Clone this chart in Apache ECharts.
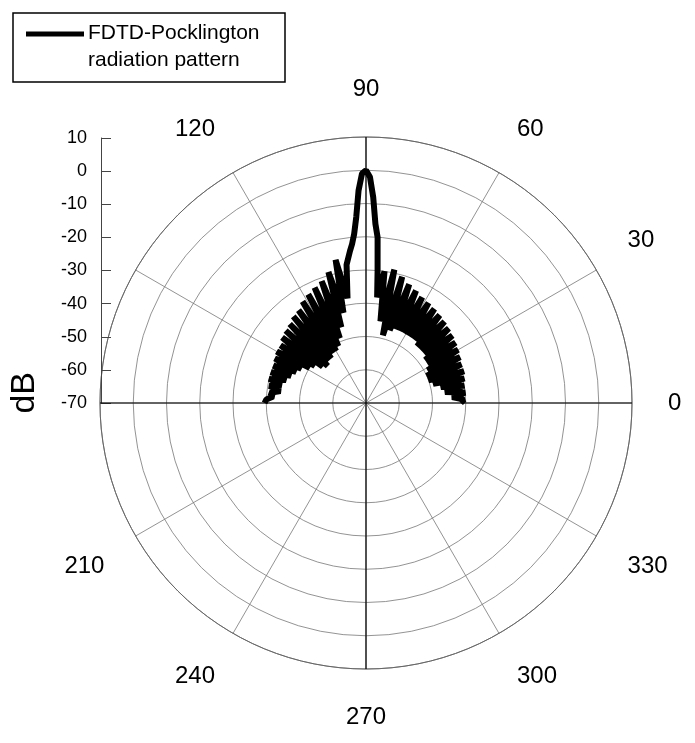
<!DOCTYPE html>
<html>
<head>
<meta charset="utf-8">
<script src="https://cdn.jsdelivr.net/npm/echarts@6/dist/echarts.min.js"></script>
<style>html,body{margin:0;padding:0;background:#fff}#chart{width:695px;height:743px}</style>
</head>
<body>
<div id="chart"></div>
<script>
// pattern sample angles (deg) and gain (dB)
const angles = [0,2,4,6,8,10,12,14,16,18,20,22,24,26,28,30,32,34,36,38,40,42,44,46,48,50,52,54,56,58,60,62,64,66,68,70,72,74,76,78,80,82,84,
  85,86,87,88,89,90,91,92,93,94,95,96,98,100,
  102,104,106,108,110,112,114,116,118,120,122,124,126,128,130,132,134,136,138,140,142,144,146,148,150,152,154,156,158,160,162,164,166,168,170,172,174,176,178,180];
const gainDb = [-41.5,-40.5,-44,-40,-46,-40,-47,-39.5,-49,-39,-50,-39,-50,-38.5,-49,-38,-48,-37.5,-48,-37,-47,-36.5,-47,-36,-47,-35.5,-46,-35,-46,-34.5,-46,-34,-46,-33,-46,-32,-47,-30.5,-49,-29,-45,-30,-38,
  -30,-20,-16,-8,-2,0,-1,-6,-14,-19,-22,-24,-28,-38,
  -26,-42,-29,-46,-31,-49,-32,-51,-33,-52,-34,-52,-35.5,-53,-36,-53,-37,-54,-37.5,-53,-38,-51,-39,-50,-39,-48,-39.5,-47,-40,-46,-40,-45,-40,-44,-40.5,-44,-41,-42,-40,-39.5];
const dbTicks = { min: -70, max: 10, step: 10 };
const angleTicks = { min: 0, max: 360, step: 30 };
const hiddenAngleLabels = [150, 180, 360];

const cx = 366, cy = 403, R = 266;
const chart = echarts.init(document.getElementById("chart"));
const font = "Arial, 'Liberation Sans', sans-serif";

chart.setOption({
  animation: false,
  polar: { center: [cx, cy], radius: R },
  angleAxis: {
    type: "value", min: angleTicks.min, max: angleTicks.max, interval: angleTicks.step,
    startAngle: 0, clockwise: false,
    axisLine: { lineStyle: { color: "#666", width: 1 } },
    axisTick: { show: false },
    axisLabel: { margin: 36, fontSize: 24, color: "#000", fontFamily: font,
      formatter: (v) => (hiddenAngleLabels.includes(v) ? "" : v) },
    splitLine: { lineStyle: { color: "#777", width: 0.8 } },
  },
  radiusAxis: {
    type: "value", min: dbTicks.min, max: dbTicks.max, interval: dbTicks.step,
    axisLine: { show: false }, axisTick: { show: false }, axisLabel: { show: false },
    splitLine: { lineStyle: { color: "#777", width: 0.8 } },
  },
  grid: { left: 101, top: 138, width: 1, height: 265 },
  xAxis: { type: "value", show: false },
  yAxis: {
    type: "value", min: dbTicks.min, max: dbTicks.max, interval: dbTicks.step,
    axisLine: { show: true, lineStyle: { color: "#444" } },
    axisTick: { show: true, inside: true, length: 10, lineStyle: { color: "#444" } },
    axisLabel: { fontSize: 18, color: "#000", margin: 14, fontFamily: font },
    splitLine: { show: false },
  },
  graphic: [
    { type: "line", shape: { x1: cx - R, y1: cy, x2: cx + R, y2: cy }, style: { stroke: "#000", lineWidth: 1.2 }, z: 5 },
    { type: "line", shape: { x1: cx, y1: cy - R, x2: cx, y2: cy + R }, style: { stroke: "#000", lineWidth: 1.2 }, z: 5 },
    { type: "rect", shape: { x: 13, y: 13, width: 272, height: 69 }, style: { fill: "#fff", stroke: "#000", lineWidth: 1.5 } },
    { type: "line", shape: { x1: 26, y1: 34, x2: 84, y2: 34 }, style: { stroke: "#000", lineWidth: 5 } },
    { type: "text", left: 88, top: 20, style: { text: "FDTD-Pocklington\nradiation pattern", font: "21px " + font, lineHeight: 27, fill: "#000" } },
    { type: "text", left: 8, top: 372, rotation: Math.PI / 2, style: { text: "dB", font: "34px " + font, fill: "#000" } },
  ],
  series: [{
    type: "line", coordinateSystem: "polar", symbol: "none",
    lineStyle: { color: "#000", width: 6 }, z: 10,
    data: angles.map((a, i) => [gainDb[i], a]),
  }],
});
</script>
</body>
</html>
